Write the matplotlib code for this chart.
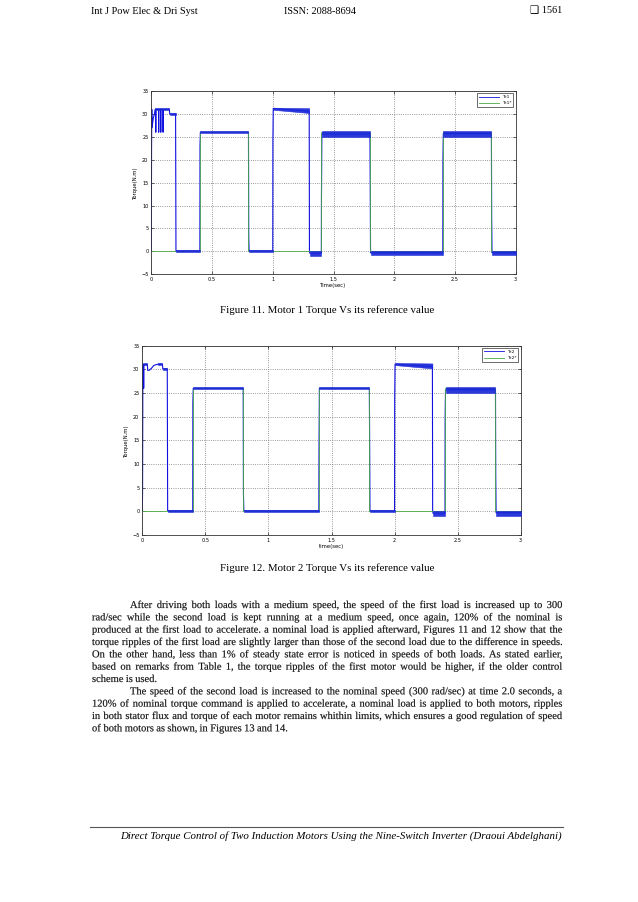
import matplotlib
matplotlib.use('Agg')
import matplotlib.pyplot as plt
from matplotlib.font_manager import FontProperties
from matplotlib.lines import Line2D
from matplotlib.textpath import TextPath
from matplotlib.patches import PathPatch
from matplotlib.transforms import Affine2D

W, H = 638, 902
BLUE = '#1010e0'
BAND = '#1a28d8'
GREEN = '#4aaa4a'

# ---------------- data ----------------
ref_edges = [0, 0.4, 0.8, 1.4, 1.8, 2.4, 2.8, 3.0]
ref1_levels = [0, 26, 0, 26, 0, 26, 0]
ref2_levels = [0, 26, 0, 26, 0, 26, 0]

te1_t = [0, 0.002, 0.004, 0.006, 0.016, 0.026, 0.032,
         0.036, 0.037, 0.038, 0.060, 0.061, 0.062, 0.077, 0.078, 0.079,
         0.096, 0.097, 0.098, 0.148, 0.152, 0.200, 0.203,
         0.400, 0.401, 0.404, 0.800, 0.802, 0.805,
         1.000, 1.001, 1.004, 1.300, 1.302, 1.305,
         1.400, 1.401, 1.404, 1.800, 1.802, 1.805,
         2.400, 2.401, 2.404, 2.800, 2.802, 2.805, 3.0]
te1_v = [0, 22, 31, 27, 29, 30, 31,
         31, 26, 31, 31, 26, 31, 31, 26, 31,
         31, 26, 31, 31, 30, 30, 0.1,
         0.1, 23, 26, 26, 3.5, 0.1,
         0.1, 24, 31.2, 30.6, 0, -0.4,
         -0.4, 12, 25.6, 25.6, 16.5, -0.3,
         -0.3, 20, 25.7, 25.7, 7.5, -0.3, -0.3]
# ripple bands: start, end, low(start), low(end), high(start), high(end)
te1_bands = [
    (0.032, 0.148, 30.85, 30.85, 31.3, 31.3),
    (0.152, 0.200, 29.85, 29.85, 30.25, 30.25),
    (0.205, 0.400, -0.05, -0.05, 0.25, 0.25),
    (0.404, 0.800, 25.8, 25.8, 26.25, 26.25),
    (0.805, 1.000, -0.05, -0.05, 0.25, 0.25),
    (1.004, 1.300, 30.9, 30.2, 31.35, 31.25),
    (1.305, 1.400, -0.9, -0.9, 0.0, 0.0),
    (1.404, 1.800, 24.9, 24.9, 26.2, 26.2),
    (1.805, 2.400, -0.7, -0.7, 0.1, 0.1),
    (2.404, 2.800, 25.0, 25.0, 26.3, 26.3),
    (2.805, 3.000, -0.8, -0.8, 0.1, 0.1),
]

te2_t = [0, 0.002, 0.004, 0.005, 0.010, 0.011, 0.012, 0.040, 0.043, 0.055,
         0.075, 0.090, 0.110, 0.127, 0.159, 0.163, 0.198, 0.201,
         0.400, 0.401, 0.404, 0.800, 0.802, 0.805,
         1.400, 1.401, 1.404, 1.800, 1.802, 1.805,
         2.000, 2.001, 2.004, 2.300, 2.302, 2.305,
         2.400, 2.401, 2.404, 2.800, 2.802, 2.805, 3.0]
te2_v = [0, 4, 26, 31, 31, 26, 31, 31, 29.8, 29.8,
         30.3, 30.8, 31, 31.1, 31.1, 30.1, 30.1, 0.1,
         0.1, 23, 26, 26, 3.5, 0.1,
         0.1, 12, 26, 26, 16.5, 0.1,
         0.1, 24, 31.1, 30.6, 0, -0.4,
         -0.4, 20, 25.7, 25.7, 7.5, -0.3, -0.3]
te2_bands = [
    (0.005, 0.040, 30.9, 30.9, 31.3, 31.3),
    (0.127, 0.159, 30.9, 30.9, 31.3, 31.3),
    (0.163, 0.198, 29.9, 29.9, 30.3, 30.3),
    (0.205, 0.400, -0.05, -0.05, 0.25, 0.25),
    (0.404, 0.800, 25.8, 25.8, 26.25, 26.25),
    (0.805, 1.400, -0.05, -0.05, 0.25, 0.25),
    (1.404, 1.800, 25.8, 25.8, 26.25, 26.25),
    (1.805, 2.000, -0.05, -0.05, 0.25, 0.25),
    (2.004, 2.300, 30.9, 30.2, 31.35, 31.25),
    (2.305, 2.400, -1.0, -1.0, 0.0, 0.0),
    (2.404, 2.800, 24.9, 24.9, 26.3, 26.3),
    (2.805, 3.000, -0.9, -0.9, 0.0, 0.0),
]

x_ticks = [0, 0.5, 1, 1.5, 2, 2.5, 3]
x_labels = ['0', '0.5', '1', '1.5', '2', '2.5', '3']
y_ticks = [-5, 0, 5, 10, 15, 20, 25, 30, 35]

header_left = 'Int J Pow Elec & Dri Syst'
header_mid = 'ISSN: 2088-8694'
header_right = '\u2751 1561'
caption1 = 'Figure 11. Motor 1 Torque Vs its reference value'
caption2 = 'Figure 12. Motor 2 Torque Vs its reference value'
footer = 'Direct Torque Control of Two Induction Motors Using the Nine-Switch Inverter (Draoui Abdelghani)'

body_lines = [
    (True, False, 'After driving both loads with a medium speed, the speed of the first load is increased up to 300'),
    (False, False, 'rad/sec while the second load is kept running at a medium speed, once again, 120% of the nominal is'),
    (False, False, 'produced at the first load to accelerate. a nominal load is applied afterward, Figures 11 and 12 show that the'),
    (False, False, 'torque ripples of the first load are slightly larger than those of the second load due to the difference in speeds.'),
    (False, False, 'On the other hand, less than 1% of steady state error is noticed in speeds of both loads. As stated earlier,'),
    (False, False, 'based on remarks from Table 1, the torque ripples of the first motor would be higher, if the older control'),
    (False, True, 'scheme is used.'),
    (True, False, 'The speed of the second load is increased to the nominal speed (300 rad/sec) at time 2.0 seconds, a'),
    (False, False, '120% of nominal torque command is applied to accelerate, a nominal load is applied to both motors, ripples'),
    (False, False, 'in both stator flux and torque of each motor remains whithin limits, which ensures a good regulation of speed'),
    (False, True, 'of both motors as shown, in Figures 13 and 14.'),
]

# ---------------- figure ----------------
fig = plt.figure(figsize=(W / 100, H / 100), dpi=100)
fig.patch.set_facecolor('white')
SERIF = ['Liberation Serif', 'DejaVu Serif']


def fx(px):
    return px / W


def fy(py):
    return 1 - py / H


def make_axes(rect_px, t, v, bands, ref_levels, xlabel, labels):
    l, t0, r, b = rect_px
    ax = fig.add_axes([fx(l), fy(b), fx(r - l), (b - t0) / H])
    ax.plot(t, v, color=BLUE, lw=0.8, zorder=2)
    ax.stairs(ref_levels, ref_edges, baseline=None, color=GREEN, lw=0.6, zorder=3)
    for (a, e, lo0, lo1, hi0, hi1) in bands:
        ax.fill_between([a, e], [lo0, lo1], [hi0, hi1], color=BAND, lw=0.4,
                        alpha=0.92, zorder=4)
    ax.set_xlim(0, 3)
    ax.set_ylim(-5, 35)
    ax.set_xticks(x_ticks)
    ax.set_xticklabels(x_labels)
    ax.set_yticks(y_ticks)
    ax.tick_params(direction='in', length=2, width=0.4, labelsize=3.6, pad=2,
                   top=True, right=True)
    ax.grid(True, linestyle=':', color='#777777', lw=0.6)
    for s in ax.spines.values():
        s.set_linewidth(0.6)
        s.set_color('#333333')
    ax.set_xlabel(xlabel, fontsize=3.8, labelpad=1)
    ax.set_ylabel('Torque(N.m)', fontsize=3.8, labelpad=2)
    handles = [Line2D([], [], color=BLUE, lw=0.6), Line2D([], [], color=GREEN, lw=0.6)]
    leg = ax.legend(handles, labels, loc='upper right', fontsize=3.2, frameon=True,
                    fancybox=False, edgecolor='#333333', framealpha=1,
                    handlelength=4.5, borderaxespad=0.5, borderpad=0.4,
                    labelspacing=0.5)
    leg.get_frame().set_linewidth(0.5)
    leg.set_zorder(10)
    return ax


make_axes((151.3, 91, 515.7, 274.3), te1_t, te1_v, te1_bands, ref1_levels,
          'Time(sec)', ['Te1', 'Te1*'])
make_axes((142.3, 345.7, 520.7, 535), te2_t, te2_v, te2_bands, ref2_levels,
          'time(sec)', ['Te2', 'Te2*'])

# header
hsize = 7.4
fig.text(fx(91), fy(11), header_left, family=SERIF, fontsize=hsize, ha='left', va='center')
fig.text(fx(320), fy(11), header_mid, family=SERIF, fontsize=hsize, ha='center', va='center')
fig.text(fx(562), fy(11), header_right, family=['Liberation Serif', 'DejaVu Sans'],
         fontsize=hsize, ha='right', va='center')

# captions
fig.text(fx(327), fy(310), caption1, family=SERIF, fontsize=7.8, ha='center', va='center')
fig.text(fx(327), fy(568), caption2, family=SERIF, fontsize=7.8, ha='center', va='center')

# body text (justified, drawn as glyph paths so every word shares one baseline)
BODY_SIZE = 7.55
prop = FontProperties(family='Liberation Serif', size=BODY_SIZE)
PX_PER_PT = fig.dpi / 72.0


def word_width(s):
    if not s:
        return 0.0
    tp = TextPath((0, 0), s, size=BODY_SIZE, prop=prop)
    return tp.get_extents().x1 * PX_PER_PT


space_px = max(word_width('a a') - 2 * word_width('a'), 2.4)
left_px, right_px, indent_px = 92, 562, 130
y0, dy = 605, 12.33
for i, (indent, last, line) in enumerate(body_lines):
    base = y0 + i * dy + 3.0
    words = line.split(' ')
    start = indent_px if indent else left_px
    widths = [word_width(wd) for wd in words]
    if last:
        gap = space_px
    else:
        gap = (right_px - start - sum(widths)) / (len(words) - 1)
    x = start
    for wd, w in zip(words, widths):
        tp = TextPath((0, 0), wd, size=BODY_SIZE, prop=prop)
        patch = PathPatch(tp, facecolor='#111111', edgecolor='#111111', lw=0.12,
                          transform=Affine2D().scale(PX_PER_PT).translate(x, H - base))
        fig.add_artist(patch)
        x += w + gap

# footer
fig.add_artist(Line2D([fx(90), fx(563)], [fy(827), fy(827)], color='#555555', lw=0.8))
fig.text(fx(562), fy(836), footer, family=SERIF, style='italic', fontsize=7.8,
         ha='right', va='center')

fig.savefig('out.png', dpi=100, facecolor='white')
